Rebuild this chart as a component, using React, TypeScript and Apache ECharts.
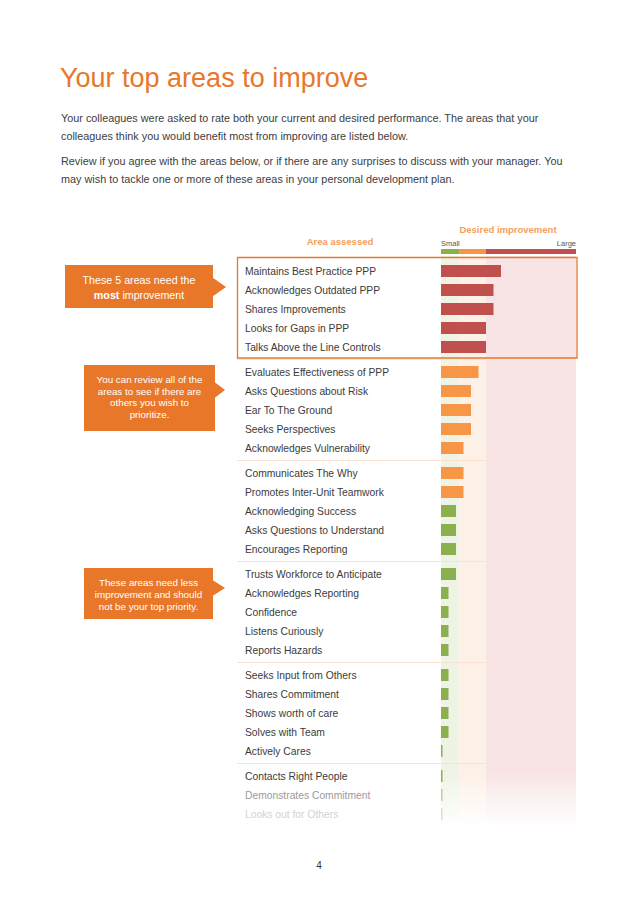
import React, { useEffect, useRef } from 'react';
import * as echarts from 'echarts';

// ---------- data ----------
const areas = [
  'Maintains Best Practice PPP',
  'Acknowledges Outdated PPP',
  'Shares Improvements',
  'Looks for Gaps in PPP',
  'Talks Above the Line Controls',
  'Evaluates Effectiveness of PPP',
  'Asks Questions about Risk',
  'Ear To The Ground',
  'Seeks Perspectives',
  'Acknowledges Vulnerability',
  'Communicates The Why',
  'Promotes Inter-Unit Teamwork',
  'Acknowledging Success',
  'Asks Questions to Understand',
  'Encourages Reporting',
  'Trusts Workforce to Anticipate',
  'Acknowledges Reporting',
  'Confidence',
  'Listens Curiously',
  'Reports Hazards',
  'Seeks Input from Others',
  'Shares Commitment',
  'Shows worth of care',
  'Solves with Team',
  'Actively Cares',
  'Contacts Right People',
  'Demonstrates Commitment',
  'Looks out for Others',
];
const improvement = [
  8, 7, 7, 6, 6,
  5, 4, 4, 4, 3,
  3, 3, 2, 2, 2,
  2, 1, 1, 1, 1,
  1, 1, 1, 1, 0.2,
  0.2, 0.2, 0.2,
];
const zoneLimits = [0, 2.5, 6, 18];
const scaleLabels = ['Small', 'Large'];
const titleText = 'Your top areas to improve';
const paragraphLines = [
  'Your colleagues were asked to rate both your current and desired performance. The areas that your',
  'colleagues think you would benefit most from improving are listed below.',
  'Review if you agree with the areas below, or if there are any surprises to discuss with your manager. You',
  'may wish to tackle one or more of these areas in your personal development plan.',
];
const calloutMost = ['These 5 areas need the', '{b|most} improvement'];
const calloutReview = ['You can review all of the', 'areas to see if there are', 'others you wish to', 'prioritize.'];
const calloutLess = ['These areas need less', 'improvement and should', 'not be your top priority.'];
const pageNumber = '4';

// ---------- style / layout ----------
const FONT = "'Liberation Sans', Arial, Helvetica, sans-serif";
const ACCENT = '#e8772a';
const HEAD = '#f2a160';
const zoneColors = ['#8db04f', '#f79646', '#c0504d'];
const zoneBg = ['#eef3e5', '#fdf0e6', '#f8e4e4'];
const PLOT_LEFT = 441;
const PLOT_W = 135;
const LABEL_X = 245;
const ROW = 19;
const GROUP_SIZE = 5;
const GROUP_GAP = 6;
const FIRST_TOP = 261.5;
const BG_TOP = 256;
const BG_H = 572;

function withAlpha(hex: string, a: number) {
  const r = parseInt(hex.slice(1, 3), 16);
  const g = parseInt(hex.slice(3, 5), 16);
  const b = parseInt(hex.slice(5, 7), 16);
  return `rgba(${r},${g},${b},${a})`;
}

function zoneIndex(v: number) {
  for (let i = zoneLimits.length - 2; i >= 0; i--) if (v >= zoneLimits[i]) return i;
  return 0;
}

const labelColors = ['#3b3b3b', '#9a9a9a', '#d2d2d2'];
const fadeOpacity = [1, 0.55, 0.3];

export default function App() {
  const ref = useRef<HTMLDivElement>(null);

  useEffect(() => {
    if (!ref.current) return;
    const chart = echarts.init(ref.current, undefined, { renderer: 'svg' });

    const groups: { names: string[]; vals: number[]; start: number }[] = [];
    for (let s = 0; s < areas.length; s += GROUP_SIZE) {
      groups.push({ names: areas.slice(s, s + GROUP_SIZE), vals: improvement.slice(s, s + GROUP_SIZE), start: s });
    }
    const n = areas.length;
    const fadeLevel = (idx: number) => (idx === n - 1 ? 2 : idx === n - 2 ? 1 : 0);

    const grid: any[] = [];
    const xAxis: any[] = [];
    const yAxis: any[] = [];
    const series: any[] = [];

    const labelRich: any = {};
    labelColors.forEach((c, i) => {
      labelRich['l' + i] = {
        width: PLOT_LEFT - LABEL_X,
        align: 'left',
        fontSize: 10.3,
        fontFamily: FONT,
        color: c,
      };
    });

    groups.forEach((g, gi) => {
      grid.push({
        left: PLOT_LEFT,
        width: PLOT_W,
        top: FIRST_TOP + gi * (GROUP_SIZE * ROW + GROUP_GAP),
        height: g.names.length * ROW,
      });
      xAxis.push({ gridIndex: gi, type: 'value', min: zoneLimits[0], max: zoneLimits[zoneLimits.length - 1], show: false });
      yAxis.push({
        gridIndex: gi,
        type: 'category',
        inverse: true,
        data: g.names,
        axisLine: { show: false },
        axisTick: { show: false },
        splitLine: { show: false },
        axisLabel: {
          margin: 0,
          fontSize: 10.3,
          fontFamily: FONT,
          color: '#3b3b3b',
          formatter: (v: string) => `{l${fadeLevel(areas.indexOf(v))}|${v}}`,
          rich: labelRich,
        },
      });
      series.push({
        type: 'bar',
        xAxisIndex: gi,
        yAxisIndex: gi,
        barWidth: 12,
        z: 5,
        silent: true,
        data: g.vals.map((v, i) => ({
          value: v,
          itemStyle: { color: zoneColors[zoneIndex(v)], opacity: fadeOpacity[fadeLevel(g.start + i)] },
        })),
      });
    });

    // background zones grid
    const bgIdx = groups.length;
    grid.push({ left: PLOT_LEFT, width: PLOT_W, top: BG_TOP, height: BG_H });
    xAxis.push({ gridIndex: bgIdx, type: 'value', min: zoneLimits[0], max: zoneLimits[zoneLimits.length - 1], show: false });
    yAxis.push({ gridIndex: bgIdx, type: 'value', min: 0, max: 1, show: false });
    series.push({
      type: 'line',
      xAxisIndex: bgIdx,
      yAxisIndex: bgIdx,
      data: [],
      z: 1,
      silent: true,
      markArea: {
        silent: true,
        label: { show: false },
        data: zoneBg.map((c, i) => [
          {
            xAxis: zoneLimits[i],
            itemStyle: {
              color: {
                type: 'linear', x: 0, y: 0, x2: 0, y2: 1,
                colorStops: [
                  { offset: 0, color: c },
                  { offset: 0.9, color: c },
                  { offset: 1, color: withAlpha(c, 0) },
                ],
              },
            },
          },
          { xAxis: zoneLimits[i + 1] },
        ]),
      },
    });

    // header scale bar grid
    const hdIdx = groups.length + 1;
    grid.push({ left: PLOT_LEFT, width: PLOT_W, top: 249, height: 5 });
    xAxis.push({ gridIndex: hdIdx, type: 'value', min: zoneLimits[0], max: zoneLimits[zoneLimits.length - 1], show: false });
    yAxis.push({ gridIndex: hdIdx, type: 'value', min: 0, max: 1, show: false });
    series.push({
      type: 'line',
      xAxisIndex: hdIdx,
      yAxisIndex: hdIdx,
      data: [],
      z: 1,
      silent: true,
      markArea: {
        silent: true,
        label: { show: false },
        data: zoneColors.map((c, i) => [
          { xAxis: zoneLimits[i], itemStyle: { color: c, opacity: 1 } },
          { xAxis: zoneLimits[i + 1] },
        ]),
      },
    });

    const txt = (x: number, y: number, text: string, o: any = {}) => ({
      type: 'text',
      x,
      y,
      silent: true,
      z: 10,
      style: {
        text,
        fontFamily: FONT,
        fontSize: 11,
        fill: '#3d3d3d',
        align: 'left',
        verticalAlign: 'middle',
        ...o,
      },
    });

    const graphic: any[] = [];
    graphic.push(txt(60, 77.5, titleText, { fontSize: 27, fill: ACCENT }));
    const pY = [118, 136, 161, 179];
    paragraphLines.forEach((l, i) => graphic.push(txt(61, pY[i], l, { fontSize: 10.85, fill: '#404040' })));

    graphic.push(txt(508, 229, 'Desired improvement', { fontSize: 9.5, fontWeight: 'bold', fill: HEAD, align: 'center' }));
    graphic.push(txt(340, 241, 'Area assessed', { fontSize: 9.5, fontWeight: 'bold', fill: HEAD, align: 'center' }));
    graphic.push(txt(441, 243.5, scaleLabels[0], { fontSize: 7.5, fill: '#555' }));
    graphic.push(txt(576, 243.5, scaleLabels[1], { fontSize: 7.5, fill: '#555', align: 'right' }));

    // separators between groups
    for (let gi = 1; gi < groups.length; gi++) {
      const y = FIRST_TOP + gi * (GROUP_SIZE * ROW + GROUP_GAP) - GROUP_GAP / 2;
      graphic.push({
        type: 'line', silent: true, z: 6,
        shape: { x1: 237, y1: y, x2: 487, y2: y },
        style: { stroke: '#fbe2d0', lineWidth: 1 },
      });
    }
    // faint left edge
    graphic.push({
      type: 'line', silent: true, z: 6,
      shape: { x1: 237.5, y1: 358, x2: 237.5, y2: 805 },
      style: {
        stroke: {
          type: 'linear', x: 0, y: 0, x2: 0, y2: 1, global: false,
          colorStops: [
            { offset: 0, color: '#fbe6d8' },
            { offset: 0.85, color: '#fbe6d8' },
            { offset: 1, color: 'rgba(251,230,216,0)' },
          ],
        },
        lineWidth: 1,
      },
    });

    // highlight box around the top group
    graphic.push({
      type: 'rect', silent: true, z: 7,
      shape: { x: 237.5, y: 257.5, width: 339.5, height: 100.5 },
      style: { fill: 'none', stroke: ACCENT, lineWidth: 1.3 },
    });

    // callouts
    const callout = (x: number, y: number, w: number, h: number, tipX: number, tipY: number, half: number) => {
      graphic.push({ type: 'rect', silent: true, z: 8, shape: { x, y, width: w, height: h }, style: { fill: ACCENT } });
      graphic.push({
        type: 'polygon', silent: true, z: 8,
        shape: { points: [[x + w - 0.5, tipY - half], [tipX, tipY], [x + w - 0.5, tipY + half]] },
        style: { fill: ACCENT },
      });
    };
    callout(65, 265, 148, 43, 226, 287, 9.5);
    callout(84, 365, 131, 66, 225, 390, 8);
    callout(84, 568, 129, 51, 225, 588, 8);

    graphic.push(txt(139, 280, calloutMost[0], { fontSize: 10.7, fill: '#fff', align: 'center' }));
    graphic.push(txt(139, 294.5, calloutMost[1], {
      fontSize: 10.7, fill: '#fff', align: 'center',
      rich: { b: { fontWeight: 'bold', fontSize: 10.7, fontFamily: FONT, fill: '#fff', color: '#fff' } },
    }));
    const rY = [379.5, 391.5, 402.5, 414];
    calloutReview.forEach((l, i) => graphic.push(txt(149.5, rY[i], l, { fontSize: 9.8, fill: '#fff', align: 'center' })));
    const lY = [582, 594, 606];
    calloutLess.forEach((l, i) => graphic.push(txt(148.5, lY[i], l, { fontSize: 9.8, fill: '#fff', align: 'center' })));

    graphic.push(txt(319, 865, pageNumber, { fontSize: 10, fill: '#333', align: 'center' }));

    chart.setOption({
      animation: false,
      backgroundColor: '#ffffff',
      grid,
      xAxis,
      yAxis,
      series,
      graphic,
    });

    return () => chart.dispose();
  }, []);

  return <div ref={ref} style={{ position: 'absolute', left: 0, top: 0, width: 638, height: 902 }} />;
}
